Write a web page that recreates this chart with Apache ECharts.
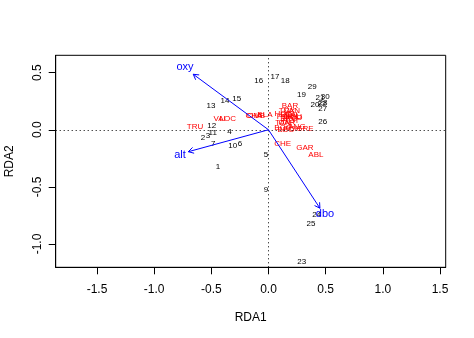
<!DOCTYPE html>
<html><head><meta charset="utf-8">
<script src="https://cdn.jsdelivr.net/npm/echarts@6/dist/echarts.min.js"></script>
<style>html,body{margin:0;padding:0;background:#fff}#c{width:474px;height:338px}</style>
</head><body><div id="c"></div>
<script>
// Site scores (black labels)
const siteLabels = ['1','2','3','4','5','6','7','9','10','11','12','13','14','15','16','17','18','19','20','21','22','23','24','25','26','27','28','29','30'];
const siteX = [-0.442,-0.573,-0.529,-0.341,-0.022,-0.249,-0.483,-0.022,-0.313,-0.488,-0.497,-0.503,-0.380,-0.278,-0.086,0.057,0.147,0.289,0.407,0.450,0.468,0.290,0.422,0.372,0.474,0.474,0.477,0.383,0.497];
const siteY = [-0.326,-0.072,-0.054,-0.019,-0.221,-0.120,-0.127,-0.527,-0.142,-0.028,0.033,0.208,0.252,0.267,0.433,0.462,0.430,0.305,0.217,0.278,0.226,-1.155,-0.746,-0.819,0.066,0.188,0.235,0.375,0.287];

// Species scores (red labels)
const spLabels = ['CHA','TRU','VAI','LOC','OMB','BLA','HOT','TOX','VAN','CHE','BAR','SPI','GOU','BRO','PER','BOU','PSO','ROT','CAR','TAN','BCO','PCH','GRE','GAR','BBO','ABL','ANG'];
const spX = [-0.127,-0.643,-0.428,-0.356,-0.109,-0.031,0.127,0.162,0.206,0.124,0.188,0.197,0.214,0.179,0.144,0.180,0.223,0.197,0.162,0.127,0.127,0.206,0.319,0.319,0.153,0.415,0.249];
const spY = [0.120,0.027,0.092,0.092,0.120,0.129,0.138,0.165,0.165,-0.127,0.208,0.121,0.112,0.095,0.112,0.130,0.103,0.077,0.060,0.060,0.016,0.007,0.011,-0.157,-0.002,-0.215,0.025];

// Environmental arrows (blue)
const envLabels = ['alt','oxy','dbo'];
const envX = [-0.701,-0.658,0.450];
const envY = [-0.192,0.486,-0.687];
const envLabelX = [-0.774,-0.730,0.494];
const envLabelY = [-0.221,0.553,-0.737];

// Axis ticks
const xTicks = [-1.5,-1.0,-0.5,0.0,0.5,1.0,1.5];
const yTicks = [-1.0,-0.5,0.0,0.5];

const FONT = '"Liberation Sans", Arial, Helvetica, sans-serif';

function textSeries(labels, xs, ys, color, size, z) {
  return {
    type: 'custom', silent: true, z: z,
    encode: {x: 0, y: 1},
    data: xs.map((x, i) => [x, ys[i]]),
    renderItem: (params, api) => {
      const p = api.coord([api.value(0), api.value(1)]);
      return {
        type: 'text', x: p[0], y: p[1],
        style: {text: labels[params.dataIndex], fill: color, font: size + 'px ' + FONT,
                align: 'center', verticalAlign: 'middle'}
      };
    }
  };
}

const arrowSeries = {
  type: 'custom', silent: true, z: 5,
  encode: {x: 0, y: 1},
  data: envX.map((x, i) => [x, envY[i]]),
  renderItem: (params, api) => {
    const p0 = api.coord([0, 0]);
    const p1 = api.coord([api.value(0), api.value(1)]);
    const ang = Math.atan2(p1[1] - p0[1], p1[0] - p0[0]);
    const L = 6, a = Math.PI / 6;
    const h1 = [p1[0] - L * Math.cos(ang - a), p1[1] - L * Math.sin(ang - a)];
    const h2 = [p1[0] - L * Math.cos(ang + a), p1[1] - L * Math.sin(ang + a)];
    const st = {stroke: '#0000FF', lineWidth: 1, fill: null};
    return {
      type: 'group',
      children: [
        {type: 'line', shape: {x1: p0[0], y1: p0[1], x2: p1[0], y2: p1[1]}, style: st},
        {type: 'polyline', shape: {points: [h1, p1, h2]}, style: st}
      ]
    };
  }
};

const chart = echarts.init(document.getElementById('c'), null, {renderer: 'canvas'});
chart.setOption({
  animation: false,
  backgroundColor: '#fff',
  grid: {left: 55.7, right: 28.3, top: 55.3, bottom: 70.7, show: true, borderColor: '#000', borderWidth: 1,
         containLabel: false, outerBoundsMode: 'none'},
  xAxis: {
    type: 'value', min: -1.861, max: 1.550,
    name: 'RDA1', nameLocation: 'middle', nameGap: 44,
    nameTextStyle: {color: '#000', fontSize: 12, fontFamily: FONT},
    axisLine: {show: true, onZero: false, lineStyle: {color: '#000'}},
    axisTick: {show: true, length: 7, customValues: xTicks, lineStyle: {color: '#000'}},
    axisLabel: {customValues: xTicks, margin: 16, color: '#000', fontSize: 12, fontFamily: FONT,
                formatter: v => v.toFixed(1)},
    splitLine: {show: false}
  },
  yAxis: {
    type: 'value', min: -1.204, max: 0.652,
    name: 'RDA2', nameLocation: 'middle', nameGap: 40, nameRotate: 90,
    nameTextStyle: {color: '#000', fontSize: 12, fontFamily: FONT},
    axisLine: {show: true, onZero: false, lineStyle: {color: '#000'}},
    axisTick: {show: true, length: 7, customValues: yTicks, lineStyle: {color: '#000'}},
    axisLabel: {customValues: yTicks, rotate: 90, margin: 12, color: '#000', fontSize: 12, fontFamily: FONT,
                formatter: v => v.toFixed(1)},
    splitLine: {show: false}
  },
  series: [
    Object.assign(textSeries(siteLabels, siteX, siteY, '#000', 8, 2), {
      markLine: {
        silent: true, symbol: 'none', label: {show: false},
        lineStyle: {color: '#000', type: [1, 3], width: 1},
        data: [{xAxis: 0}, {yAxis: 0}]
      }
    }),
    textSeries(spLabels, spX, spY, '#FF0000', 8, 3),
    arrowSeries,
    textSeries(envLabels, envLabelX, envLabelY, '#0000FF', 11, 6)
  ]
});
</script>
</body></html>
